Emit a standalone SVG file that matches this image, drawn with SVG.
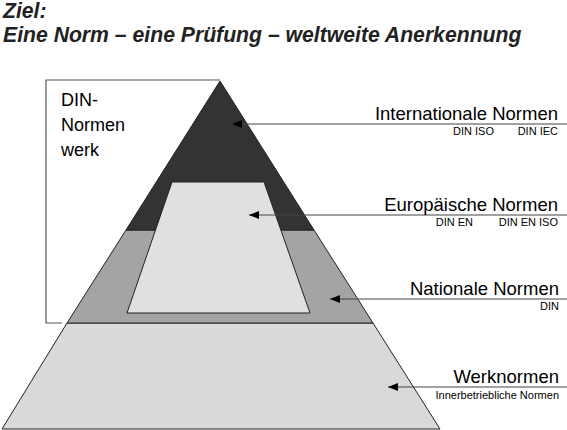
<svg xmlns="http://www.w3.org/2000/svg" width="567" height="430" viewBox="0 0 567 430">
<style>
.t{font-family:"Liberation Sans",Arial,sans-serif;fill:#000}
.title{font-size:21.2px;font-weight:bold;font-style:italic;fill:#222}
.big{font-size:18.5px}
.small{font-size:11px}
.lbl{font-size:18px}
.conn{stroke:#444;stroke-width:1.2;fill:none}
.edge{stroke:#222;stroke-width:1}
</style>
<defs>
<marker id="ah" markerWidth="10" markerHeight="8" refX="10" refY="4" orient="auto" markerUnits="userSpaceOnUse">
<path d="M0,0 L10,4 L0,8 Z" fill="#000"/>
</marker>
</defs>
<rect width="567" height="430" fill="#fff"/>
<g id="title">
<text class="t title" x="3" y="18">Ziel:</text>
<text class="t title" x="3" y="42">Eine Norm – eine Prüfung – weltweite Anerkennung</text>
</g>
<g id="din-normenwerk">
<polyline points="220,80 46,80 46,323 62,323" fill="none" stroke="#555" stroke-width="1.2"/>
<text class="t lbl" x="61" y="106">DIN-</text>
<text class="t lbl" x="61" y="131">Normen</text>
<text class="t lbl" x="61" y="156">werk</text>
</g>
<g id="werknormen">
<polygon class="edge" points="67,323 373,323 440,429 2,429" fill="#d9d9d9"/>
</g>
<g id="nationale">
<polygon class="edge" points="126,230 314,230 373,323 67,323" fill="#a4a4a4"/>
</g>
<g id="internationale">
<polygon class="edge" points="220,81 314,230 126,230" fill="#333"/>
</g>
<g id="europaeische">
<polygon class="edge" points="172,182 264,182 310,313 127,313" fill="#e0e0e0"/>
</g>
<g id="connectors">
<line class="conn" x1="567" y1="124" x2="232" y2="124" marker-end="url(#ah)"/>
<line class="conn" x1="567" y1="215" x2="249" y2="215" marker-end="url(#ah)"/>
<line class="conn" x1="567" y1="299" x2="330" y2="299" marker-end="url(#ah)"/>
<line class="conn" x1="567" y1="387" x2="388" y2="387" marker-end="url(#ah)"/>
</g>
<g id="labels" text-anchor="end">
<text class="t big" x="558" y="120">Internationale Normen</text>
<text class="t small" x="494" y="135">DIN ISO</text>
<text class="t small" x="558" y="135">DIN IEC</text>
<text class="t big" x="558" y="211">Europäische Normen</text>
<text class="t small" x="473" y="226">DIN EN</text>
<text class="t small" x="558" y="226">DIN EN ISO</text>
<text class="t big" x="559" y="295">Nationale Normen</text>
<text class="t small" x="559" y="310">DIN</text>
<text class="t big" x="559" y="383">Werknormen</text>
<text class="t small" x="559" y="399">Innerbetriebliche Normen</text>
</g>
</svg>
